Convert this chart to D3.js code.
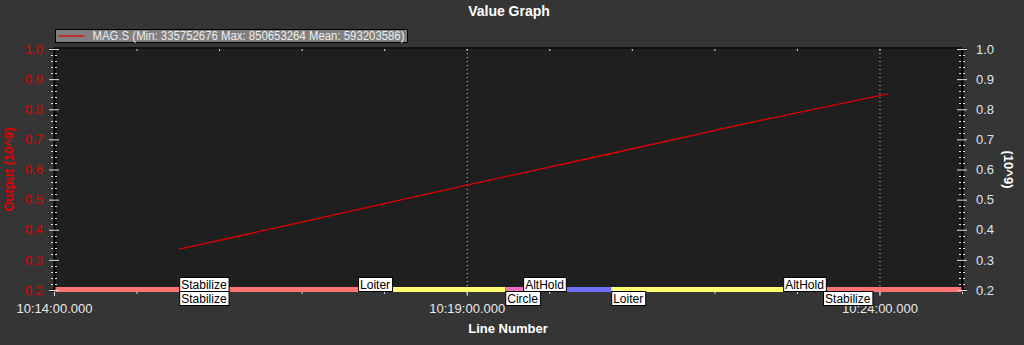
<!DOCTYPE html>
<html>
<head>
<meta charset="utf-8">
<script src="https://cdn.jsdelivr.net/npm/d3@7"></script>
<style>
  body { margin: 0; background: #353535; }
  svg { display: block; font-family: "Liberation Sans", Arial, sans-serif; }
</style>
</head>
<body>
<div id="chart"></div>
<script>
// Series: MAG.S in units of 10^9
const magTimes = ["10:15:31", "10:17:00", "10:19:00", "10:20:36", "10:22:25", "10:24:06"];
const magValues = [0.3358, 0.4250, 0.5480, 0.6440, 0.7550, 0.8507];

// Flight mode changes
const modeTimes = ["10:15:31", "10:15:31", "10:17:41", "10:19:28", "10:19:41", "10:20:45", "10:22:50", "10:23:19"];
const modeNames = ["Stabilize", "Stabilize", "Loiter", "Circle", "AltHold", "Loiter", "AltHold", "Stabilize"];

// Axes
const yTicks = [0.2, 0.3, 0.4, 0.5, 0.6, 0.7, 0.8, 0.9, 1.0];
const xLabelTimes = ["10:14:00", "10:19:00", "10:24:00"];
const xDomain = ["10:14:00", "10:25:00"];

const legendText = "MAG.S (Min: 335752676 Max: 850653264 Mean: 593203586)";

const modeColors = {
    Stabilize: "#ff7373",
    Loiter: "#ffff70",
    Circle: "#f070c0",
    AltHold: "#7070ff"
};

// Sizes
let width = 1024;
let height = 345;
let margin = { top: 49, right: 62, bottom: 55, left: 54 };

const parseTime = d3.timeParse("%H:%M:%S");
const fmtTime = d3.timeFormat("%H:%M:%S.%L");

let svg = d3.select("#chart").append("svg")
    .attr("width", width)
    .attr("height", height);

svg.append("rect")
    .attr("width", width)
    .attr("height", height)
    .attr("fill", "#353535");

const xScale = d3.scaleTime()
    .domain(xDomain.map(parseTime))
    .range([margin.left, width - margin.right]);

const yScale = d3.scaleLinear()
    .domain([0.2, 1.0])
    .range([height - margin.bottom, margin.top]);

// Plot area
svg.append("rect")
    .attr("x", margin.left)
    .attr("y", margin.top - 1)
    .attr("width", width - margin.left - margin.right)
    .attr("height", height - margin.top - margin.bottom + 3)
    .attr("fill", "#1f1f1f");

svg.append("line")
    .attr("x1", margin.left).attr("x2", width - margin.right)
    .attr("y1", margin.top - 1).attr("y2", margin.top - 1)
    .attr("stroke", "#111").attr("stroke-width", 2);

// Dotted vertical grid lines at major x ticks
svg.append("g")
    .selectAll("line")
    .data(xLabelTimes.slice(1).map(parseTime))
    .enter().append("line")
    .attr("x1", d => xScale(d) + 0.5)
    .attr("x2", d => xScale(d) + 0.5)
    .attr("y1", margin.top)
    .attr("y2", height - margin.bottom + 2)
    .attr("stroke", "#c8c8c8")
    .attr("stroke-dasharray", "1,3");

// Minor x ticks every minute (top and bottom)
const minorX = d3.timeMinute.range(xScale.domain()[0], d3.timeMinute.offset(xScale.domain()[1], 1));
svg.append("g")
    .selectAll("line")
    .data(minorX)
    .enter().append("line")
    .attr("x1", d => xScale(d) + 0.5)
    .attr("x2", d => xScale(d) + 0.5)
    .attr("y1", margin.top)
    .attr("y2", margin.top + 2)
    .attr("stroke", "#ddd");

// Mode bands
const modeData = modeTimes.map((t, i) => ({ t: parseTime(t), name: modeNames[i], i: i }));
const bands = modeData.map((d, i) => ({
    start: i === 0 ? xScale.domain()[0] : d.t,
    end: i < modeData.length - 1 ? modeData[i + 1].t : xScale.domain()[1],
    name: d.name
}));
svg.append("g")
    .selectAll("rect")
    .data(bands)
    .enter().append("rect")
    .attr("x", d => xScale(d.start))
    .attr("width", d => Math.max(0, xScale(d.end) - xScale(d.start)))
    .attr("y", yScale(0.2) - 3)
    .attr("height", 5)
    .attr("fill", d => modeColors[d.name]);

// MAG.S line
const line = d3.line()
    .x((d, i) => xScale(parseTime(magTimes[i])))
    .y(d => yScale(d));
svg.append("path")
    .datum(magValues)
    .attr("d", line)
    .attr("fill", "none")
    .attr("stroke", "#e00000")
    .attr("stroke-width", 1.3);

// Left axis
const leftG = svg.append("g")
    .attr("transform", `translate(${margin.left},0)`);
leftG.call(d3.axisLeft(yScale).tickValues(yTicks).tickFormat(d3.format(".1f")).tickSize(5).tickPadding(6));
leftG.select(".domain").attr("stroke", "#000").attr("stroke-width", 2);
leftG.selectAll(".tick line").attr("stroke", "#ddd").attr("x2", 5).attr("x1", -5);
leftG.selectAll(".tick text").attr("fill", "#e00000").attr("font-size", 13);

// Right axis
const rightG = svg.append("g")
    .attr("transform", `translate(${width - margin.right},0)`);
rightG.call(d3.axisRight(yScale).tickValues(yTicks).tickFormat(d3.format(".1f")).tickSize(5).tickPadding(9));
rightG.select(".domain").attr("stroke", "#000").attr("stroke-width", 2);
rightG.selectAll(".tick line").attr("stroke", "#ddd").attr("x1", -5).attr("x2", 5);
rightG.selectAll(".tick text").attr("fill", "#dde6f0").attr("font-size", 13);

// Minor y ticks (0.02 steps)
const minorY = yScale.ticks(40).filter(v => Math.abs(v * 10 - Math.round(v * 10)) > 1e-6);
[margin.left, width - margin.right].forEach(ax => {
    svg.append("g")
        .selectAll("line")
        .data(minorY)
        .enter().append("line")
        .attr("x1", ax - 3)
        .attr("x2", ax + 3)
        .attr("y1", d => Math.round(yScale(d)) + 0.5)
        .attr("y2", d => Math.round(yScale(d)) + 0.5)
        .attr("stroke", "#ddd")
        .attr("stroke-dasharray", "2,2");
});

// Bottom axis
const bottomG = svg.append("g")
    .attr("transform", `translate(0,${height - margin.bottom + 2})`);
bottomG.call(d3.axisBottom(xScale).tickValues(xLabelTimes.map(parseTime)).tickFormat(fmtTime).tickSize(4).tickPadding(8));
bottomG.select(".domain").remove();
bottomG.selectAll(".tick line").attr("stroke", "#ddd");
bottomG.selectAll(".tick text").attr("fill", "#e8e8e8").attr("font-size", 13);
svg.append("g")
    .selectAll("line")
    .data(minorX)
    .enter().append("line")
    .attr("x1", d => xScale(d) + 0.5)
    .attr("x2", d => xScale(d) + 0.5)
    .attr("y1", height - margin.bottom + 2)
    .attr("y2", height - margin.bottom + 4)
    .attr("stroke", "#ddd");

// Mode labels (alternate above / below the band, as in the reference they sit over the tick text)
const labels = svg.append("g")
    .selectAll("g")
    .data(modeData)
    .enter().append("g")
    .attr("transform", d => `translate(${xScale(d.t)},${d.i % 2 === 0 ? yScale(0.2) - 12 : yScale(0.2) + 2})`);
labels.append("text")
    .attr("x", 2)
    .attr("y", 11)
    .attr("font-size", 12)
    .attr("fill", "#000")
    .text(d => d.name);
labels.each(function () {
    const g = d3.select(this);
    const w = g.select("text").node().getComputedTextLength();
    g.insert("rect", "text")
        .attr("x", 0.5)
        .attr("y", -0.5)
        .attr("width", w + 4)
        .attr("height", 14)
        .attr("fill", "#fff")
        .attr("stroke", "#000");
});

// Legend
const legend = svg.append("g").attr("transform", "translate(55.5,29.5)");
legend.append("rect")
    .attr("width", 352)
    .attr("height", 13)
    .attr("fill", "#808080")
    .attr("stroke", "#000");
legend.append("text")
    .attr("x", 37)
    .attr("y", 10.5)
    .attr("font-size", 12)
    .attr("fill", "#eeeeee")
    .attr("textLength", 312)
    .attr("lengthAdjust", "spacingAndGlyphs")
    .text(legendText);
legend.append("line")
    .attr("x1", 3).attr("x2", 29)
    .attr("y1", 6.5).attr("y2", 6.5)
    .attr("stroke", "#e00000")
    .attr("stroke-width", 1.3);

// Title and axis labels
svg.append("text")
    .attr("x", 509)
    .attr("y", 16)
    .attr("text-anchor", "middle")
    .attr("font-size", 14)
    .attr("font-weight", "bold")
    .attr("fill", "#fff")
    .text("Value Graph");

svg.append("text")
    .attr("x", 508)
    .attr("y", 333)
    .attr("text-anchor", "middle")
    .attr("font-size", 13)
    .attr("font-weight", "bold")
    .attr("fill", "#fff")
    .text("Line Number");

svg.append("text")
    .attr("transform", `translate(13,${(margin.top + height - margin.bottom) / 2}) rotate(-90)`)
    .attr("text-anchor", "middle")
    .attr("font-size", 13)
    .attr("font-weight", "bold")
    .attr("fill", "#e00000")
    .text("Output (10^9)");

svg.append("text")
    .attr("transform", `translate(1004,${(margin.top + height - margin.bottom) / 2}) rotate(90)`)
    .attr("text-anchor", "middle")
    .attr("font-size", 13)
    .attr("font-weight", "bold")
    .attr("fill", "#fff")
    .text("(10^9)");
</script>
</body>
</html>
